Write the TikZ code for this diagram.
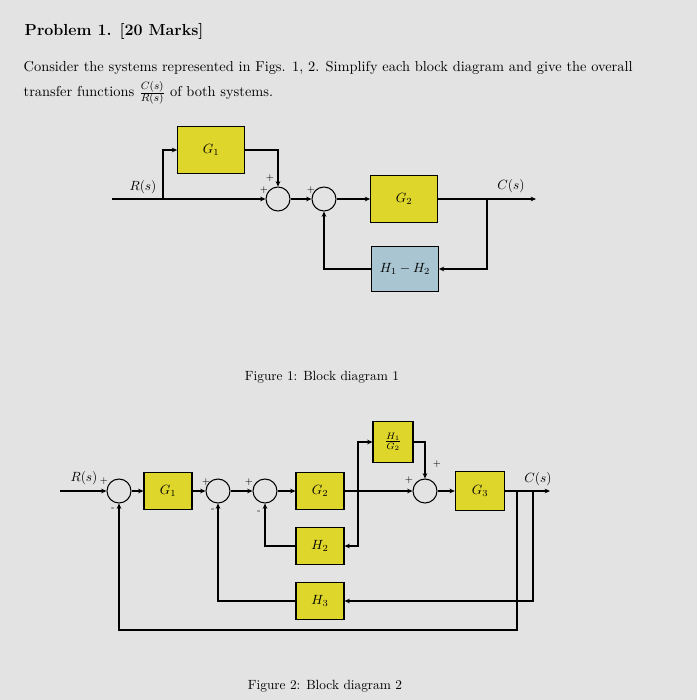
\documentclass[tikz,border=0pt]{standalone}
\usetikzlibrary{arrows.meta}
\begin{document}
\begin{tikzpicture}[x=0.75pt,y=-0.75pt,
  blk/.style={draw,line width=0.8pt,fill=yellow!85!black!95,inner sep=0pt,font=\normalsize},
  sum/.style={draw,circle,line width=0.8pt,minimum size=18pt,inner sep=0pt},
  sig/.style={line width=0.8pt},
  ar/.style={sig,-{Stealth[length=4pt,width=3.5pt]}},
  sg/.style={font=\scriptsize,inner sep=0pt}]
\fill[gray!22] (0,0) rectangle (697,700);
\useasboundingbox (0,0) rectangle (697,700);
% text
\node[anchor=west,font=\large\bfseries] (title) at (20,31) {Problem 1. [20 Marks]};
\node[anchor=west,font=\fontsize{10.8}{13}\selectfont] (l1) at (19,68) {Consider the systems represented in Figs. 1, 2. Simplify each block diagram and give the overall};
\node[anchor=west,font=\fontsize{10.8}{13}\selectfont] (l2) at (19,93) {transfer functions $\frac{C(s)}{R(s)}$ of both systems.};
% ---- Figure 1
\node[blk,minimum width=50pt,minimum height=35pt] (fg1) at (211,150) {$G_1$};
\node[blk,minimum width=50pt,minimum height=35pt] (fg2) at (404,199) {$G_2$};
\node[blk,fill=cyan!35!gray!60,minimum width=50pt,minimum height=34pt] (fh) at (405,269) {$H_1-H_2$};
\node[sum] (fs1) at (278,199) {};
\node[sum] (fs2) at (324,199) {};
\coordinate (fin) at (112,199);
\coordinate (fb) at (163,199);
\coordinate (fo) at (487,199);
\coordinate (fend) at (536,199);
\draw[ar] (fin) -- (fs1.west);
\draw[ar] (fb) |- (fg1.west);
\draw[ar] (fg1.east) -| (fs1.north);
\draw[ar] (fs1.east) -- (fs2.west);
\draw[ar] (fs2.east) -- (fg2.west);
\draw[ar] (fg2.east) -- (fend);
\draw[ar] (fo) |- (fh.east);
\draw[ar] (fh.west) -| (fs2.south);
\node (fR) at (143,187) {$R(s)$};
\node (fC) at (511,186) {$C(s)$};
\node[sg] (p1) at (270,178) {$+$};
\node[sg] (p2) at (264,190) {$+$};
\node[sg] (p3) at (311,190) {$+$};
\node (cap1) at (322,377) {Figure 1: Block diagram 1};
% ---- Figure 2
\node[blk,minimum width=36pt,minimum height=28pt] (g1) at (168,491) {$G_1$};
\node[blk,minimum width=36pt,minimum height=28pt] (g2) at (320,491) {$G_2$};
\node[blk,minimum width=30pt,minimum height=31pt] (hg) at (393,442) {$\frac{H_1}{G_2}$};
\node[blk,minimum width=37pt,minimum height=29pt] (g3) at (480,491) {$G_3$};
\node[blk,minimum width=36pt,minimum height=28pt] (h2) at (320,546) {$H_2$};
\node[blk,minimum width=36pt,minimum height=28pt] (h3) at (320,601) {$H_3$};
\node[sum] (s1) at (119,491) {};
\node[sum] (s2) at (218,491) {};
\node[sum] (s3) at (265,491) {};
\node[sum] (s4) at (425,491) {};
\coordinate (in) at (60,491);
\coordinate (b1) at (358,491);
\coordinate (b2) at (517,491);
\coordinate (b3) at (533,491);
\coordinate (out) at (550,491);
\coordinate (bot) at (517,630);
\draw[ar] (in) -- (s1.west);
\draw[ar] (s1.east) -- (g1.west);
\draw[ar] (g1.east) -- (s2.west);
\draw[ar] (s2.east) -- (s3.west);
\draw[ar] (s3.east) -- (g2.west);
\draw[ar] (g2.east) -- (s4.west);
\draw[ar] (b1) |- (hg.west);
\draw[ar] (hg.east) -| (s4.north);
\draw[ar] (b1) |- (h2.east);
\draw[ar] (h2.west) -| (s3.south);
\draw[ar] (s4.east) -- (g3.west);
\draw[ar] (g3.east) -- (out);
\draw[ar] (b3) |- (h3.east);
\draw[ar] (h3.west) -| (s2.south);
\draw[ar] (b2) -- (bot) -| (s1.south);
\node (R2) at (84,478) {$R(s)$};
\node (C2) at (538,479) {$C(s)$};
\node[sg] (q1) at (104,481) {$+$};
\node[sg] (q2) at (113,509) {-};
\node[sg] (q3) at (206,482) {$+$};
\node[sg] (q4) at (213,510) {-};
\node[sg] (q5) at (249,482) {$+$};
\node[sg] (q6) at (259,512) {-};
\node[sg] (q7) at (409,480) {$+$};
\node[sg] (q8) at (437,464) {$+$};
\node (cap2) at (325,686) {Figure 2: Block diagram 2};
\end{tikzpicture}
\end{document}
